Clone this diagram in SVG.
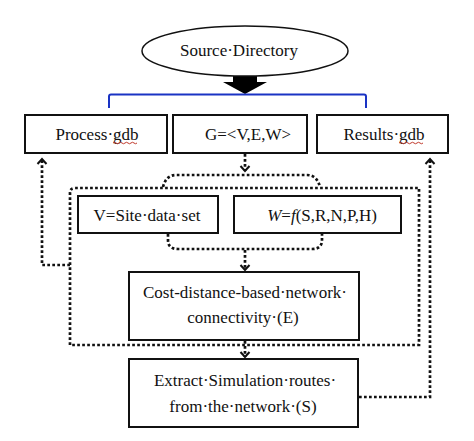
<svg xmlns="http://www.w3.org/2000/svg" width="474" height="441" viewBox="0 0 474 441">
<style>
text{font-family:"Liberation Serif","Times New Roman",serif;font-size:17px;fill:#111;text-anchor:middle}
.box{fill:#fff;stroke:#111;stroke-width:2}
.dot{fill:none;stroke:#111;stroke-width:2.7;stroke-dasharray:2.7 2.3}
.wavy{fill:none;stroke:#c0392b;stroke-width:1}
</style>
<defs>
<marker id="chev" markerUnits="userSpaceOnUse" markerWidth="14" markerHeight="14" refX="0" refY="0" viewBox="-7 -7 14 14" orient="auto" overflow="visible">
<path d="M-5,-4.5 L0,0 L-5,4.5" fill="none" stroke="#111" stroke-width="2"/>
</marker>
</defs>
<rect width="474" height="441" fill="#fff"/>

<g id="connectors">
<polygon points="233,76 257,76 257,82 267,82 245,94 223,82 233,82" fill="#000"/>
<path d="M109,108 V96.5 Q109,94.5 111,94.5 H364 Q366,94.5 366,96.5 V108" fill="none" stroke="#1a33c4" stroke-width="2"/>
<path class="dot" d="M245,154 V171" marker-end="url(#chev)"/>
<path class="dot" d="M163,187 Q166,175 176,175 H307 Q317,175 320,187"/>
<path class="dot" d="M70,345 V193 Q70,188 75,188 H419 V345 Z"/>
<path class="dot" d="M70,265 H42 V159" marker-end="url(#chev)"/>
<path class="dot" d="M168,234 V240 Q168,249 178,249 H312 Q322,249 322,240 V234"/>
<path class="dot" d="M245,250 V270" marker-end="url(#chev)"/>
<path class="dot" d="M245,341 V357" marker-end="url(#chev)"/>
<path class="dot" d="M359,397 H430 V159" marker-end="url(#chev)"/>
</g>

<g id="source">
<ellipse cx="245" cy="51" rx="103" ry="25" fill="#fff" stroke="#111" stroke-width="1.5"/>
<text x="239" y="56">Source·Directory</text>
</g>

<g id="process">
<rect class="box" x="25" y="115" width="142" height="38"/>
<text x="97" y="140">Process·gdb</text>
<path class="wavy" d="M113,143 q1.5,-1.5 3,0 t3,0 t3,0 t3,0 t3,0 t3,0 t3,0 t3,0"/>
</g>

<g id="graph">
<rect class="box" x="173" y="115" width="134" height="38"/>
<text x="248" y="140">G=&lt;V,E,W&gt;</text>
</g>

<g id="results">
<rect class="box" x="317" y="115" width="131" height="38"/>
<text x="384" y="140">Results·gdb</text>
<path class="wavy" d="M399,143 q1.5,-1.5 3,0 t3,0 t3,0 t3,0 t3,0 t3,0 t3,0 t3,0"/>
</g>

<g id="vertices">
<rect class="box" x="78" y="196" width="140" height="37"/>
<text x="147" y="221">V=Site·data·set</text>
</g>

<g id="weights">
<rect class="box" x="234" y="196" width="167" height="37"/>
<text x="322" y="221"><tspan font-style="italic">W</tspan>=<tspan font-style="italic">f</tspan>(S,R,N,P,H)</text>
</g>

<g id="cost">
<rect class="box" x="129" y="272" width="230" height="68"/>
<text x="245" y="298">Cost-distance-based·network·</text>
<text x="243" y="323">connectivity·(E)</text>
</g>

<g id="extract">
<rect class="box" x="129" y="359" width="229" height="68"/>
<text x="245" y="386">Extract·Simulation·routes·</text>
<text x="243" y="412">from·the·network·(S)</text>
</g>
</svg>
